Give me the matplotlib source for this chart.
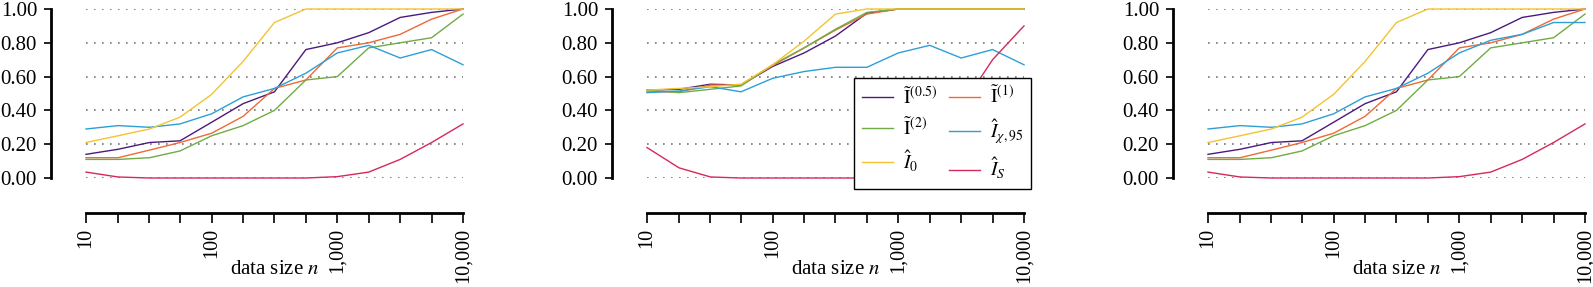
import matplotlib
matplotlib.use("Agg")
import matplotlib.pyplot as plt
from matplotlib.ticker import FixedLocator, FixedFormatter

plt.rcParams['font.family'] = ['Liberation Serif', 'DejaVu Serif']
plt.rcParams['mathtext.fontset'] = 'stix'

# data sizes (quarter decades from 10 to 10,000)
n = [10, 18, 32, 56, 100, 178, 316, 562, 1000, 1778, 3162, 5623, 10000]
tick_labels = ["10", "", "", "", "100", "", "", "", "1,000", "", "", "", "10,000"]

# panel 1 / panel 3
a_half = [0.14, 0.17, 0.21, 0.22, 0.33, 0.44, 0.51, 0.76, 0.80, 0.86, 0.95, 0.98, 1.00]
a_one = [0.12, 0.12, 0.165, 0.21, 0.265, 0.365, 0.53, 0.58, 0.77, 0.80, 0.85, 0.94, 1.00]
a_two = [0.11, 0.11, 0.12, 0.16, 0.25, 0.31, 0.40, 0.58, 0.60, 0.77, 0.80, 0.83, 0.97]
a_chi = [0.29, 0.31, 0.30, 0.32, 0.38, 0.48, 0.53, 0.62, 0.74, 0.785, 0.71, 0.76, 0.67]
a_zero = [0.21, 0.25, 0.29, 0.36, 0.495, 0.69, 0.92, 1.00, 1.00, 1.00, 1.00, 1.00, 1.00]
a_s = [0.035, 0.006, 0.0, 0.0, 0.0, 0.0, 0.0, 0.0, 0.008, 0.035, 0.11, 0.21, 0.32]

# panel 2
b_half = [0.52, 0.525, 0.555, 0.55, 0.66, 0.74, 0.84, 0.975, 1.00, 1.00, 1.00, 1.00, 1.00]
b_one = [0.51, 0.51, 0.55, 0.55, 0.665, 0.77, 0.875, 0.97, 1.00, 1.00, 1.00, 1.00, 1.00]
b_two = [0.52, 0.505, 0.525, 0.545, 0.67, 0.77, 0.88, 0.98, 1.00, 1.00, 1.00, 1.00, 1.00]
b_chi = [0.505, 0.515, 0.54, 0.51, 0.59, 0.63, 0.655, 0.655, 0.74, 0.785, 0.71, 0.76, 0.67]
b_zero = [0.52, 0.53, 0.54, 0.555, 0.67, 0.81, 0.97, 1.00, 1.00, 1.00, 1.00, 1.00, 1.00]
b_s = [0.18, 0.06, 0.006, 0.0, 0.0, 0.0, 0.0, 0.0, 0.0, 0.10, 0.42, 0.70, 0.90]

# panel 3 only differs in the chi line
c_chi = [0.29, 0.31, 0.30, 0.32, 0.38, 0.48, 0.53, 0.62, 0.74, 0.815, 0.85, 0.92, 0.92]

names = [r"$\tilde{\mathrm{I}}^{(0.5)}$", r"$\tilde{\mathrm{I}}^{(1)}$", r"$\tilde{\mathrm{I}}^{(2)}$",
         r"$\hat{I}_{\chi,95}$", r"$\hat{I}_0$", r"$\hat{I}_S$"]
colors = ["#4b1a7e", "#ee6a35", "#6fac45", "#2d9fd6", "#f2c431", "#d42a5a"]

panels = [
    [a_half, a_one, a_two, a_chi, a_zero, a_s],
    [b_half, b_one, b_two, b_chi, b_zero, b_s],
    [a_half, a_one, a_two, c_chi, a_zero, a_s],
]

W, H = 1593, 287
fig = plt.figure(figsize=(W / 100, H / 100), dpi=100)

for i, series in enumerate(panels):
	left = (86 + 561 * i) / W
	ax = fig.add_axes([left, (H - 178) / H, 377 / W, 169 / H])

	lines = []
	for vals, name, col in zip(series, names, colors):
		ln, = ax.plot(n, vals, color=col, lw=1.0, label=name, clip_on=False)
		lines.append(ln)

	ax.set_xscale("log")
	ax.set_xlim(10, 10000)
	ax.set_ylim(0, 1)

	ax.xaxis.set_major_locator(FixedLocator(n))
	ax.xaxis.set_major_formatter(FixedFormatter(tick_labels))
	ax.xaxis.set_minor_locator(FixedLocator([]))
	ax.set_yticks([0, 0.2, 0.4, 0.6, 0.8, 1.0])
	ax.set_yticklabels(["0.00", "0.20", "0.40", "0.60", "0.80", "1.00"])

	ax.tick_params(axis="x", length=7.2, width=1.2, pad=3.5, labelsize=14.5, labelrotation=90)
	ax.tick_params(axis="y", length=5, width=1.2, pad=5, labelsize=15)

	ax.grid(axis="y", color="#777777", lw=1.2, linestyle=(0, (1, 3.8)))
	ax.set_axisbelow(True)

	for s in ["top", "right"]:
		ax.spines[s].set_visible(False)
	for s in ["left", "bottom"]:
		ax.spines[s].set_position(("outward", 25.2))
		ax.spines[s].set_linewidth(2.0)
	ax.spines["left"].set_bounds(0, 1)
	ax.spines["bottom"].set_bounds(10, 10000)

	ax.text(0.5, -0.544, "data size $n$", transform=ax.transAxes,
	        ha="center", va="center", fontsize=15)

	if i == 1:
		order = [0, 2, 4, 1, 3, 5]
		leg = ax.legend([lines[k] for k in order], [names[k] for k in order],
		                ncol=2, loc="upper right", bbox_to_anchor=(1.0185, 0.592),
		                borderaxespad=0, fontsize=14, fancybox=False, framealpha=1,
		                edgecolor="black", handlelength=1.6, columnspacing=0.6,
		                handletextpad=0.5, labelspacing=0.5)
		leg.get_frame().set_linewidth(1.0)
		leg.set_zorder(5)

fig.savefig("out.png", dpi=100)
